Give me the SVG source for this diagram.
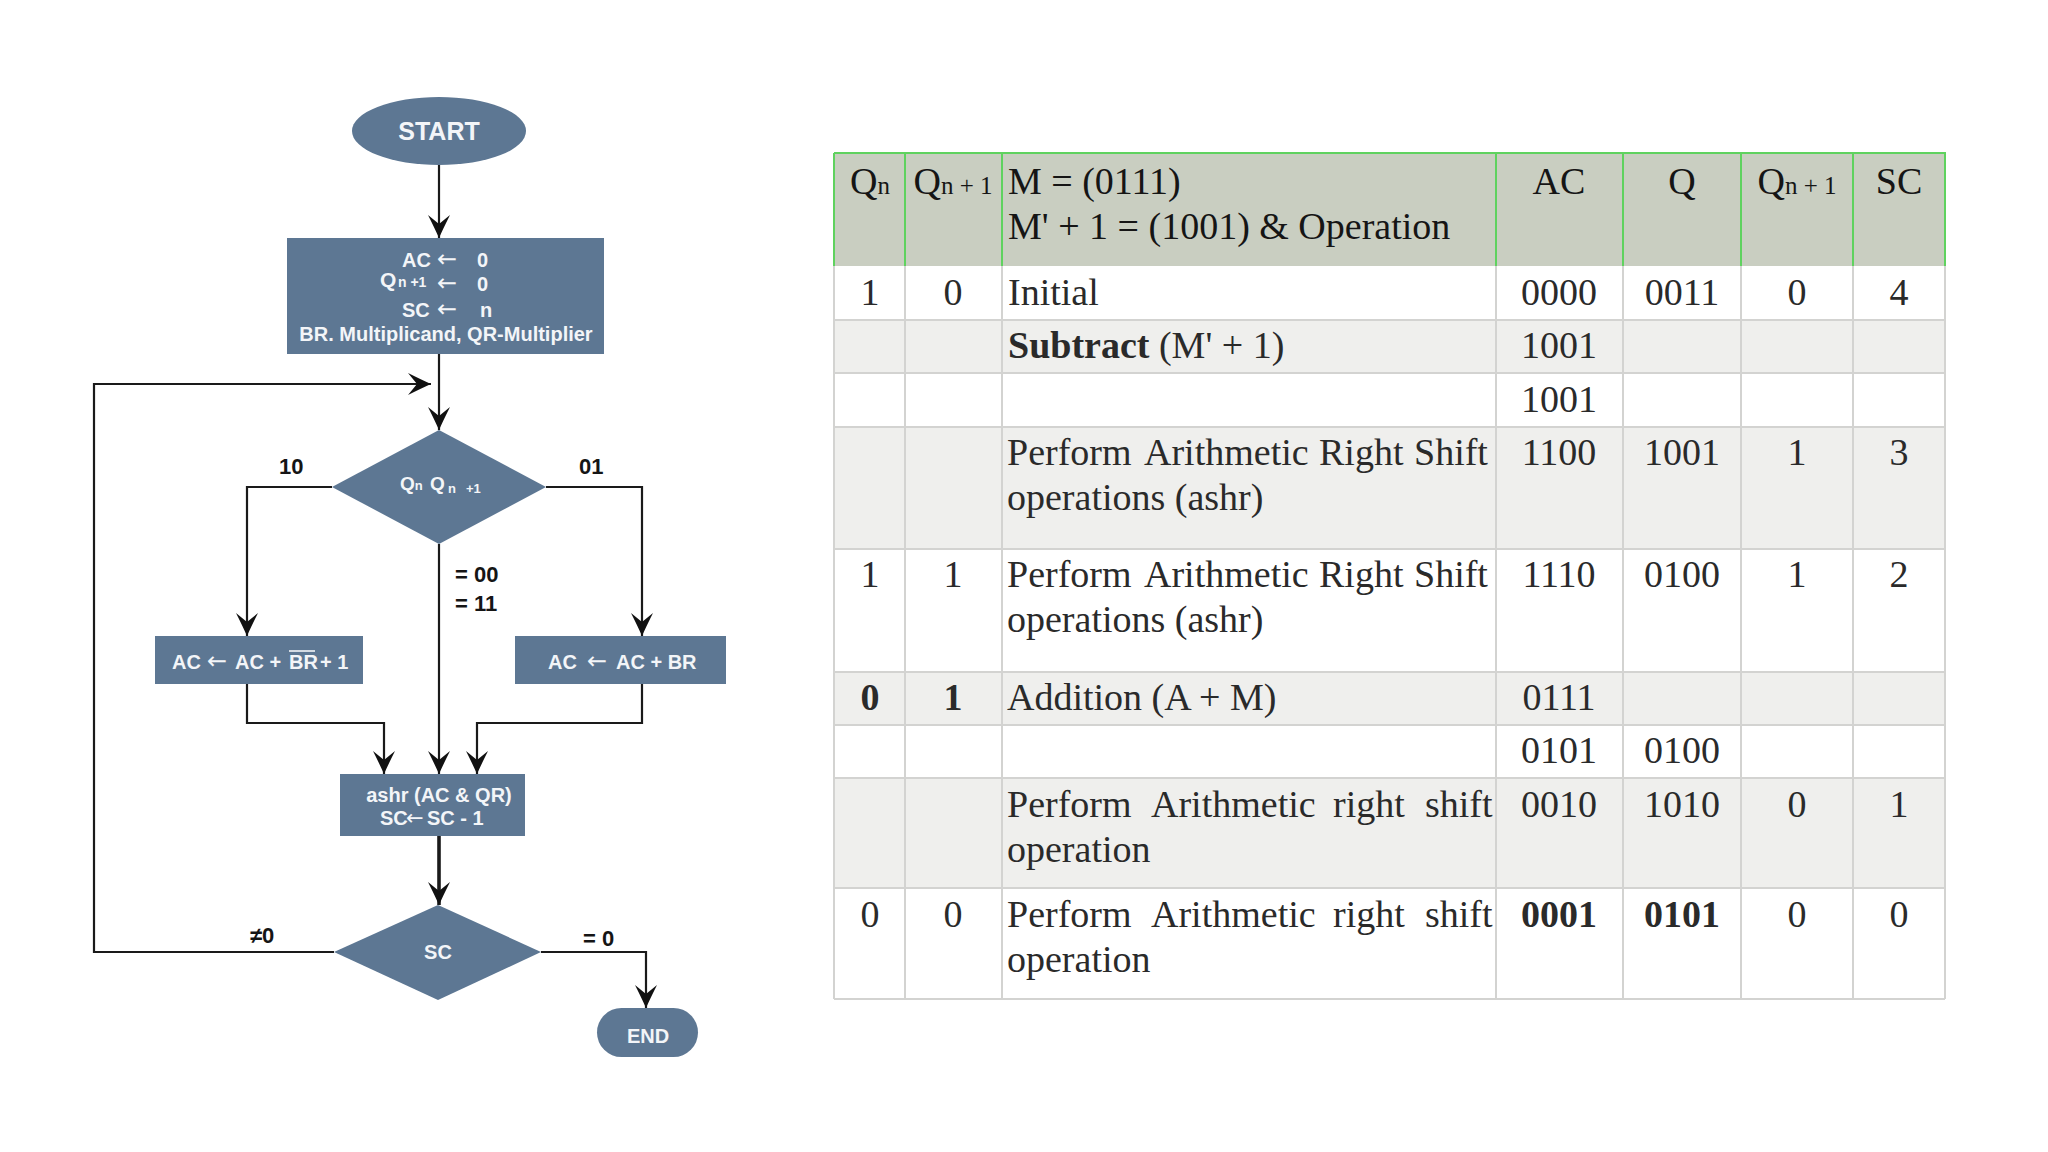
<svg xmlns="http://www.w3.org/2000/svg" width="2048" height="1152" viewBox="0 0 2048 1152">
<style>
  .node { fill: #5d7793; }
  .nt { font-family: "Liberation Sans", Arial, sans-serif; fill: #f3f5f8; font-weight: bold; font-size: 20px; }
  .ar { font-family: "DejaVu Sans", sans-serif; font-weight: normal; font-size: 24px; }
  .lbl { font-family: "Liberation Sans", Arial, sans-serif; fill: #151515; font-weight: bold; font-size: 22px; }
  .edge { fill: none; stroke: #1a1a1a; stroke-width: 2.2; }
  .thick { stroke-width: 3.6; }
  .hd { font-family: "Liberation Serif", "Times New Roman", serif; font-size: 38px; fill: #151515; }
  .tt { font-family: "Liberation Serif", "Times New Roman", serif; font-size: 38px; fill: #2a2a2a; }
  .c { text-anchor: middle; }
  .b { font-weight: bold; }
  .grid { stroke: #d3d3d1; stroke-width: 2; fill: none; }
  .ggrid { stroke: #5fd25f; stroke-width: 2; fill: none; }
  .alt { fill: #efefed; }
  .wht { fill: #ffffff; }
</style>
<defs>
  <marker id="ah" markerUnits="userSpaceOnUse" markerWidth="26" markerHeight="24" viewBox="-24 -12 26 24" refX="0" refY="0" orient="auto">
    <path d="M0,0 Q-9,-4 -23,-11 L-14,0 L-23,11 Q-9,4 0,0 Z" fill="#111111"/>
  </marker>
</defs>
<rect width="2048" height="1152" fill="#ffffff"/>

<!-- Flowchart nodes -->
<g id="start">
  <ellipse class="node" cx="439" cy="131" rx="87" ry="34"/>
  <text class="nt c" x="439" y="140" style="font-size:25px">START</text>
</g>
<g id="init">
  <rect class="node" x="287" y="238" width="317" height="116"/>
  <text class="nt" y="267"><tspan x="402">AC</tspan><tspan class="ar" x="437">←</tspan><tspan x="477">0</tspan></text>
  <text class="nt" y="287"><tspan x="380" style="font-size:21px">Q</tspan><tspan x="398" style="font-size:14px">n +1</tspan></text>
  <text class="nt" y="291"><tspan class="ar" x="437">←</tspan><tspan x="477">0</tspan></text>
  <text class="nt" y="317"><tspan x="402">SC</tspan><tspan class="ar" x="437">←</tspan><tspan x="480">n</tspan></text>
  <text class="nt c" x="446" y="341">BR. Multiplicand, QR-Multiplier</text>
</g>
<g id="decision1">
  <polygon class="node" points="439,430 546,487 439,544 332,487"/>
  <text class="nt" y="490" style="font-size:19px"><tspan x="400">Q</tspan><tspan style="font-size:13px">n</tspan><tspan x="430">Q</tspan><tspan x="448" dy="3" style="font-size:13px">n</tspan><tspan x="466" style="font-size:13px">+1</tspan></text>
</g>
<g id="subtract">
  <rect class="node" x="155" y="636" width="208" height="48"/>
  <text class="nt" y="669"><tspan x="172">AC</tspan><tspan class="ar" x="207">←</tspan><tspan x="235">AC + </tspan><tspan x="289">BR</tspan><tspan x="320">+ 1</tspan></text>
  <line x1="289" y1="651" x2="315" y2="651" stroke="#f3f5f8" stroke-width="1.6"/>
</g>
<g id="add">
  <rect class="node" x="515" y="636" width="211" height="48"/>
  <text class="nt" y="669"><tspan x="548">AC</tspan><tspan class="ar" x="587">←</tspan><tspan x="616">AC + BR</tspan></text>
</g>
<g id="shift">
  <rect class="node" x="340" y="774" width="185" height="62"/>
  <text class="nt c" x="439" y="802">ashr (AC &amp; QR)</text>
  <text class="nt" y="825"><tspan x="380">SC</tspan><tspan class="ar" x="406" style="font-size:21px">←</tspan><tspan x="427">SC - 1</tspan></text>
</g>
<g id="decision2">
  <polygon class="node" points="438,905 541,952 438,1000 334,952"/>
  <text class="nt c" x="438" y="959">SC</text>
</g>
<g id="end">
  <rect class="node" x="597" y="1008" width="101" height="49" rx="24.5" ry="24.5"/>
  <text class="nt c" x="648" y="1043">END</text>
</g>

<!-- Connectors -->
<g id="connectors">
  <path class="edge" d="M439,165 V238" marker-end="url(#ah)"/>
  <path class="edge" d="M439,354 V430" marker-end="url(#ah)"/>
  <path class="edge" d="M334,952 H94 V384 H431" marker-end="url(#ah)"/>
  <path class="edge" d="M332,487 H247 V636" marker-end="url(#ah)"/>
  <path class="edge" d="M546,487 H642 V636" marker-end="url(#ah)"/>
  <path class="edge" d="M439,544 V774" marker-end="url(#ah)"/>
  <path class="edge" d="M247,684 V723 H384 V774" marker-end="url(#ah)"/>
  <path class="edge" d="M642,684 V723 H477 V774" marker-end="url(#ah)"/>
  <path class="edge thick" d="M439,836 V905" marker-end="url(#ah)"/>
  <path class="edge" d="M541,952 H646 V1008" marker-end="url(#ah)"/>
  <text class="lbl" x="279" y="474">10</text>
  <text class="lbl" x="579" y="474">01</text>
  <text class="lbl" x="455" y="582">= 00</text>
  <text class="lbl" x="455" y="611">= 11</text>
  <text class="lbl" x="250" y="943">≠0</text>
  <text class="lbl" x="583" y="946">= 0</text>
</g>

<!-- Table -->
<g id="table">
  <rect x="834" y="153" width="1111" height="113" fill="#c9cec1"/>
  <rect class="wht" x="834" y="266" width="1111" height="54"/>
  <rect class="alt" x="834" y="320" width="1111" height="53"/>
  <rect class="wht" x="834" y="373" width="1111" height="54"/>
  <rect class="alt" x="834" y="427" width="1111" height="122"/>
  <rect class="wht" x="834" y="549" width="1111" height="123"/>
  <rect class="alt" x="834" y="672" width="1111" height="53"/>
  <rect class="wht" x="834" y="725" width="1111" height="53"/>
  <rect class="alt" x="834" y="778" width="1111" height="110"/>
  <rect class="wht" x="834" y="888" width="1111" height="111"/>
  <path class="grid" d="M834,320 H1945 M834,373 H1945 M834,427 H1945 M834,549 H1945 M834,672 H1945 M834,725 H1945 M834,778 H1945 M834,888 H1945 M834,999 H1945 M834,266 V999 M905,266 V999 M1002,266 V999 M1496,266 V999 M1623,266 V999 M1741,266 V999 M1853,266 V999 M1945,266 V999"/>
  <path class="ggrid" d="M834,153 H1945 V266 M834,153 V266 M905,153 V266 M1002,153 V266 M1496,153 V266 M1623,153 V266 M1741,153 V266 M1853,153 V266"/>

  <g id="header">
    <text class="hd c" x="870" y="194">Q<tspan style="font-size:25px">n</tspan></text>
    <text class="hd c" x="953" y="194">Q<tspan style="font-size:25px">n + 1</tspan></text>
    <text class="hd" x="1008" y="194">M = (0111)</text>
    <text class="hd" x="1008" y="239">M' + 1 = (1001) &amp; Operation</text>
    <text class="hd c" x="1559" y="194">AC</text>
    <text class="hd c" x="1682" y="194">Q</text>
    <text class="hd c" x="1797" y="194">Q<tspan style="font-size:25px">n + 1</tspan></text>
    <text class="hd c" x="1899" y="194">SC</text>
  </g>

  <g id="row1">
    <text class="tt c" x="870" y="305">1</text>
    <text class="tt c" x="953" y="305">0</text>
    <text class="tt" x="1008" y="305">Initial</text>
    <text class="tt c" x="1559" y="305">0000</text>
    <text class="tt c" x="1682" y="305">0011</text>
    <text class="tt c" x="1797" y="305">0</text>
    <text class="tt c" x="1899" y="305">4</text>
  </g>
  <g id="row2">
    <text class="tt" x="1008" y="358"><tspan class="b">Subtract</tspan> (M' + 1)</text>
    <text class="tt c" x="1559" y="358">1001</text>
  </g>
  <g id="row3">
    <text class="tt c" x="1559" y="412">1001</text>
  </g>
  <g id="row4">
    <text class="tt" y="465"><tspan x="1007">Perform</tspan><tspan x="1144">Arithmetic</tspan><tspan x="1319">Right</tspan><tspan x="1414">Shift</tspan></text>
    <text class="tt" x="1007" y="510">operations (ashr)</text>
    <text class="tt c" x="1559" y="465">1100</text>
    <text class="tt c" x="1682" y="465">1001</text>
    <text class="tt c" x="1797" y="465">1</text>
    <text class="tt c" x="1899" y="465">3</text>
  </g>
  <g id="row5">
    <text class="tt c" x="870" y="587">1</text>
    <text class="tt c" x="953" y="587">1</text>
    <text class="tt" y="587"><tspan x="1007">Perform</tspan><tspan x="1144">Arithmetic</tspan><tspan x="1319">Right</tspan><tspan x="1414">Shift</tspan></text>
    <text class="tt" x="1007" y="632">operations (ashr)</text>
    <text class="tt c" x="1559" y="587">1110</text>
    <text class="tt c" x="1682" y="587">0100</text>
    <text class="tt c" x="1797" y="587">1</text>
    <text class="tt c" x="1899" y="587">2</text>
  </g>
  <g id="row6">
    <text class="tt c b" x="870" y="710">0</text>
    <text class="tt c b" x="953" y="710">1</text>
    <text class="tt" x="1007" y="710">Addition (A + M)</text>
    <text class="tt c" x="1559" y="710">0111</text>
  </g>
  <g id="row7">
    <text class="tt c" x="1559" y="763">0101</text>
    <text class="tt c" x="1682" y="763">0100</text>
  </g>
  <g id="row8">
    <text class="tt" y="817"><tspan x="1007">Perform</tspan><tspan x="1151">Arithmetic</tspan><tspan x="1333">right</tspan><tspan x="1425">shift</tspan></text>
    <text class="tt" x="1007" y="862">operation</text>
    <text class="tt c" x="1559" y="817">0010</text>
    <text class="tt c" x="1682" y="817">1010</text>
    <text class="tt c" x="1797" y="817">0</text>
    <text class="tt c" x="1899" y="817">1</text>
  </g>
  <g id="row9">
    <text class="tt c" x="870" y="927">0</text>
    <text class="tt c" x="953" y="927">0</text>
    <text class="tt" y="927"><tspan x="1007">Perform</tspan><tspan x="1151">Arithmetic</tspan><tspan x="1333">right</tspan><tspan x="1425">shift</tspan></text>
    <text class="tt" x="1007" y="972">operation</text>
    <text class="tt c b" x="1559" y="927">0001</text>
    <text class="tt c b" x="1682" y="927">0101</text>
    <text class="tt c" x="1797" y="927">0</text>
    <text class="tt c" x="1899" y="927">0</text>
  </g>
</g>
</svg>
